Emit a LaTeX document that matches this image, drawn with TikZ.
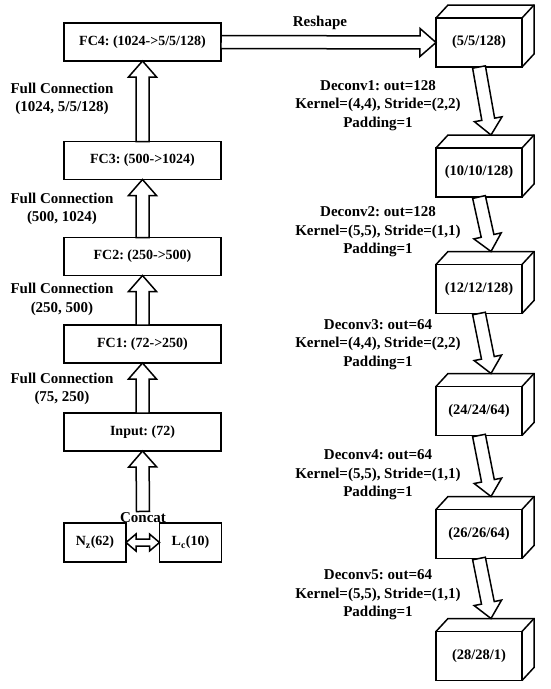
\documentclass[tikz,border=0pt]{standalone}
\usepackage{fontspec}
\setmainfont{Liberation Serif}
\usetikzlibrary{calc}
\frenchspacing

\begin{document}
\begin{tikzpicture}[x=1pt, y=-1pt, line width=1.5pt,
  fcbox/.style={rectangle, draw, minimum width=157pt, minimum height=38pt, inner sep=0pt, outer sep=0pt, font=\fontsize{14}{16}\selectfont\bfseries},
  inbox/.style={rectangle, draw, minimum width=62pt, minimum height=39pt, inner sep=0pt, outer sep=0pt, font=\fontsize{14}{16}\selectfont\bfseries},
  cube/.style={rectangle, draw, minimum width=86pt, minimum height=49pt, inner sep=0pt, outer sep=0pt, font=\fontsize{14.5}{16}\selectfont\bfseries},
  lbl/.style={align=center, inner sep=0pt, font=\fontsize{15}{18.5}\selectfont\bfseries},
  fat/.style={fill=white, to path={let \p1=(\tikztostart), \p2=(\tikztotarget), \p3=($(\p2)!16pt!(\p1)$) in
    ($(\p1)!6.5pt!90:(\p2)$) -- ($(\p3)!6.5pt!90:(\p2)$) -- ($(\p3)!14pt!90:(\p2)$) -- (\p2)
    -- ($(\p3)!14pt!-90:(\p2)$) -- ($(\p3)!6.5pt!-90:(\p2)$) -- ($(\p1)!6.5pt!-90:(\p2)$) -- cycle}},
  fatboth/.style={fill=white, to path={let \p1=(\tikztostart), \p2=(\tikztotarget), \p3=($(\p1)!10pt!(\p2)$), \p4=($(\p2)!10pt!(\p1)$) in
    (\p1) -- ($(\p3)!8.5pt!90:(\p2)$) -- ($(\p3)!3.5pt!90:(\p2)$) -- ($(\p4)!3.5pt!-90:(\p1)$) -- ($(\p4)!8.5pt!-90:(\p1)$) -- (\p2)
    -- ($(\p4)!8.5pt!90:(\p1)$) -- ($(\p4)!3.5pt!90:(\p1)$) -- ($(\p3)!3.5pt!-90:(\p2)$) -- ($(\p3)!8.5pt!-90:(\p2)$) -- cycle}}]
  \useasboundingbox (0,0) rectangle (550,689);

  \node (fc4) [fcbox] at (142.5, 42)  {FC4: (1024->5/5/128)};
  \node (fc3) [fcbox] at (142.5, 160.5) {FC3: (500->1024)};
  \node (fc2) [fcbox] at (142.5, 256.5) {FC2: (250->500)};
  \node (fc1) [fcbox] at (142.5, 344) {FC1: (72->250)};
  \node (in)  [fcbox] at (142.5, 432) {Input: (72)};
  \node (nz)  [inbox] at (95, 542.5)  {N\textsubscript{z}(62)};
  \node (lc)  [inbox] at (190.5, 542.5) {L\textsubscript{c}(10)};
  \node (cc)  [lbl, outer sep=1.5pt] at (143, 518) {Concat};

  \node (l4) [lbl] at (62, 99)    {Full Connection\\(1024, 5/5/128)};
  \node (l3) [lbl] at (62, 209)   {Full Connection\\(500, 1024)};
  \node (l2) [lbl] at (62, 299.5) {Full Connection\\(250, 500)};
  \node (l1) [lbl] at (62, 389)   {Full Connection\\(75, 250)};
  \node (rs) [lbl] at (320, 23)   {Reshape};

  \node (b1) [cube] at (479, 42.5) {(5/5/128)};
  \node (b2) [cube] at (479, 172.5) {(10/10/128)};
  \node (b3) [cube] at (479, 289)  {(12/12/128)};
  \node (b4) [cube] at (479, 411)  {(24/24/64)};
  \node (b5) [cube] at (479, 534)  {(26/26/64)};
  \node (b6) [cube] at (479, 656)  {(28/28/1)};

  \node (d1) [lbl] at (378, 105.5) {Deconv1: out=128\\Kernel=(4,4), Stride=(2,2)\\Padding=1};
  \node (d2) [lbl] at (378, 232)   {Deconv2: out=128\\Kernel=(5,5), Stride=(1,1)\\Padding=1};
  \node (d3) [lbl] at (378, 344.5) {Deconv3: out=64\\Kernel=(4,4), Stride=(2,2)\\Padding=1};
  \node (d4) [lbl] at (378, 475)   {Deconv4: out=64\\Kernel=(5,5), Stride=(1,1)\\Padding=1};
  \node (d5) [lbl] at (378, 595)   {Deconv5: out=64\\Kernel=(5,5), Stride=(1,1)\\Padding=1};

  \foreach \b in {b1,b2,b3,b4,b5,b6} {
    \draw (\b.north west) -- ++(12,-13) -- ($(\b.north east)+(12,-13)$) -- ($(\b.south east)+(12,-13)$) -- (\b.south east);
    \draw (\b.north east) -- ++(12,-13);
    \coordinate (\b t) at ($(\b.north)+(12,-13)$);
  }

  \draw[fat] (in.north) to (fc1.south);
  \draw[fat] (fc1.north) to (fc2.south);
  \draw[fat] (fc2.north) to (fc3.south);
  \draw[fat] (fc3.north) to (fc4.south);
  \draw[fat] (cc.north) to (in.south);
  \draw[fatboth] (nz.east) to (lc.west);
  \draw[fat] (fc4.east) to (b1.west);
  \draw[fat] (b1.south) to (b2t);
  \draw[fat] (b2.south) to (b3t);
  \draw[fat] (b3.south) to (b4t);
  \draw[fat] (b4.south) to (b5t);
  \draw[fat] (b5.south) to (b6t);
\end{tikzpicture}
\end{document}
